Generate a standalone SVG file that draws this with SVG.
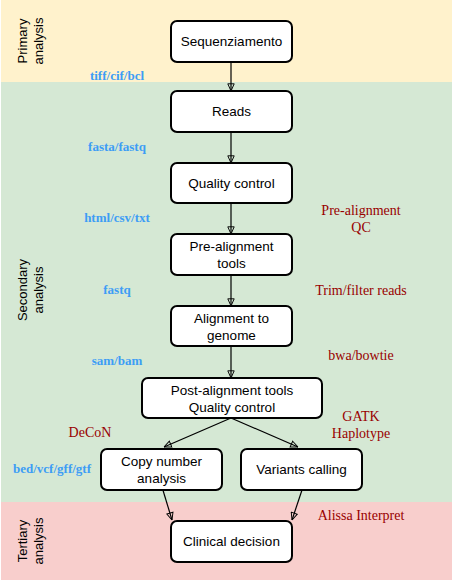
<svg xmlns="http://www.w3.org/2000/svg" width="453" height="582" viewBox="0 0 453 582">
<style>
.node rect{fill:#ffffff;stroke:#000000;stroke-width:2}
.nt{font-family:"Liberation Sans",Arial,sans-serif;font-size:13.5px;fill:#000000;text-anchor:middle}
.lane{font-family:"Liberation Sans",Arial,sans-serif;font-size:13px;fill:#000000;text-anchor:middle}
.fmt{font-family:"Liberation Serif","Times New Roman",serif;font-size:13px;font-weight:bold;fill:#3d9df5;text-anchor:middle}
.tool{font-family:"Liberation Serif","Times New Roman",serif;font-size:14px;fill:#990000;text-anchor:middle}
.conn{stroke:#000000;stroke-width:1.2;fill:none}
</style>
<defs>
<marker id="arr" viewBox="0 0 10 10" refX="10" refY="5" markerWidth="8" markerHeight="8" markerUnits="userSpaceOnUse" orient="auto">
<path d="M1,1 L10,5 L1,9 Z" fill="none" stroke="#000000" stroke-width="1.2"/>
</marker>
</defs>
<g id="bands">
<rect x="1" y="0" width="451" height="82" fill="#fff2cc"/>
<rect x="1" y="82" width="451" height="420" fill="#d5e8d4"/>
<rect x="1" y="502" width="451" height="78" fill="#f8cecc"/>
</g>
<g id="lane-labels">
<text class="lane" transform="translate(31,41) rotate(-90)"><tspan x="0" y="-4">Primary</tspan><tspan x="0" y="12">analysis</tspan></text>
<text class="lane" transform="translate(31,290) rotate(-90)"><tspan x="0" y="-4">Secondary</tspan><tspan x="0" y="12">analysis</tspan></text>
<text class="lane" transform="translate(31,541) rotate(-90)"><tspan x="0" y="-4">Tertiary</tspan><tspan x="0" y="12">analysis</tspan></text>
</g>
<g id="connectors">
<line class="conn" x1="231" y1="62" x2="231" y2="91" marker-end="url(#arr)"/>
<line class="conn" x1="231" y1="132" x2="231" y2="163" marker-end="url(#arr)"/>
<line class="conn" x1="231" y1="203" x2="231" y2="234" marker-end="url(#arr)"/>
<line class="conn" x1="231" y1="275" x2="231" y2="306" marker-end="url(#arr)"/>
<line class="conn" x1="231" y1="346" x2="231" y2="378" marker-end="url(#arr)"/>
<line class="conn" x1="231" y1="418" x2="164" y2="447" marker-end="url(#arr)"/>
<line class="conn" x1="231" y1="418" x2="298" y2="447" marker-end="url(#arr)"/>
<line class="conn" x1="162" y1="487" x2="172" y2="520" marker-end="url(#arr)"/>
<line class="conn" x1="302" y1="490" x2="292" y2="520" marker-end="url(#arr)"/>
</g>
<g id="sequenziamento" class="node"><rect x="171" y="21" width="121" height="41" rx="6"/><text class="nt" x="231.5" y="46">Sequenziamento</text></g>
<g id="reads" class="node"><rect x="171" y="91" width="121" height="41" rx="6"/><text class="nt" x="231.5" y="116">Reads</text></g>
<g id="quality-control" class="node"><rect x="171" y="163" width="121" height="40" rx="6"/><text class="nt" x="231.5" y="188">Quality control</text></g>
<g id="pre-alignment-tools" class="node"><rect x="171" y="234" width="121" height="41" rx="6"/><text class="nt" x="231.5" y="251">Pre-alignment</text><text class="nt" x="231.5" y="268">tools</text></g>
<g id="alignment" class="node"><rect x="171" y="306" width="121" height="40" rx="6"/><text class="nt" x="231.5" y="323">Alignment to</text><text class="nt" x="231.5" y="340">genome</text></g>
<g id="post-alignment" class="node"><rect x="142" y="378" width="180" height="40" rx="6"/><text class="nt" x="232" y="395">Post-alignment tools</text><text class="nt" x="232" y="412">Quality control</text></g>
<g id="copy-number" class="node"><rect x="101" y="449" width="121" height="41" rx="6"/><text class="nt" x="161.5" y="466">Copy number</text><text class="nt" x="161.5" y="483">analysis</text></g>
<g id="variants-calling" class="node"><rect x="241" y="449" width="121" height="41" rx="6"/><text class="nt" x="301.5" y="474">Variants calling</text></g>
<g id="clinical-decision" class="node"><rect x="171" y="521" width="121" height="41" rx="6"/><text class="nt" x="231.5" y="546">Clinical decision</text></g>
<g id="formats">
<text class="fmt" x="117" y="80">tiff/cif/bcl</text>
<text class="fmt" x="117" y="151">fasta/fastq</text>
<text class="fmt" x="117" y="222">html/csv/txt</text>
<text class="fmt" x="117" y="294">fastq</text>
<text class="fmt" x="117" y="365">sam/bam</text>
<text class="fmt" x="52" y="473">bed/vcf/gff/gtf</text>
</g>
<g id="tools">
<text class="tool" x="361" y="215">Pre-alignment</text>
<text class="tool" x="361" y="232">QC</text>
<text class="tool" x="361" y="295">Trim/filter reads</text>
<text class="tool" x="361" y="360">bwa/bowtie</text>
<text class="tool" x="361" y="421">GATK</text>
<text class="tool" x="361" y="438">Haplotype</text>
<text class="tool" x="90" y="437">DeCoN</text>
<text class="tool" x="361" y="520">Alissa Interpret</text>
</g>
</svg>
